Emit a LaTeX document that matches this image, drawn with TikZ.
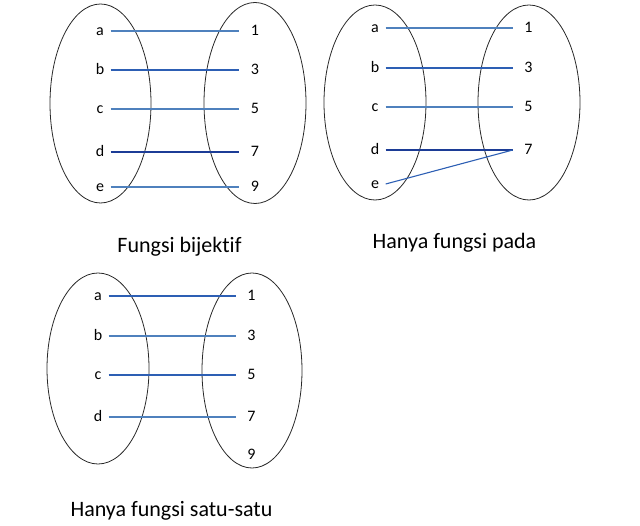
\documentclass[tikz,border=0pt]{standalone}
\usepackage{fontspec}
\setmainfont{Carlito}[Ligatures=NoCommon]
\definecolor{lineLight}{RGB}{79,129,189}
\definecolor{lineMid}{RGB}{45,95,180}
\definecolor{lineDark}{RGB}{28,60,150}
\definecolor{ringGray}{RGB}{40,40,40}
\begin{document}
\begin{tikzpicture}[x=1pt, y=-1pt,
        dom/.style={minimum width=21pt, inner sep=0pt, text height=9pt, text depth=0pt, font=\fontsize{16}{19}\selectfont},
        cod/.style={minimum width=31pt, inner sep=0pt, text height=9pt, text depth=0pt, font=\fontsize{16}{19}\selectfont},
        captext/.style={anchor=base, inner sep=0pt, font=\fontsize{22}{26}\selectfont},
        setring/.style={draw=ringGray, line width=0.8pt},
        mapline/.style={line width=1.1pt}]
        \useasboundingbox (0, 0) rectangle (640, 526);

        % Fungsi bijektif
        \draw[setring] (100.5, 103.5) ellipse [x radius=50.5, y radius=99.5];
        \draw[setring] (255, 103) ellipse [x radius=51, y radius=100.5];
        \node[dom] (pa) at (100, 31) {a};
        \node[dom] (pb) at (100, 70) {b};
        \node[dom] (pc) at (100, 109) {c};
        \node[dom] (pd) at (100, 152) {d};
        \node[dom] (pe) at (100, 187) {e};
        \node[cod] (p1) at (255, 31) {1};
        \node[cod] (p3) at (255, 70) {3};
        \node[cod] (p5) at (255, 109) {5};
        \node[cod] (p7) at (255, 152) {7};
        \node[cod] (p9) at (255, 187) {9};
        \draw[mapline, lineLight] (pa.east) -- (p1.west);
        \draw[mapline, lineMid] (pb.east) -- (p3.west);
        \draw[mapline, lineLight] (pc.east) -- (p5.west);
        \draw[mapline, lineDark] (pd.east) -- (p7.west);
        \draw[mapline, lineLight] (pe.east) -- (p9.west);
        \node[captext] (bij) at (179.5, 253) {Fungsi bijektif};

        % Hanya fungsi pada
        \draw[setring] (375, 102.5) ellipse [x radius=51, y radius=97.5];
        \draw[setring] (529, 102.5) ellipse [x radius=51, y radius=97.5];
        \node[dom] (qa) at (375, 28) {a};
        \node[dom] (qb) at (375, 68) {b};
        \node[dom] (qc) at (375, 107) {c};
        \node[dom] (qd) at (375, 150) {d};
        \node[dom] (qe) at (375, 184) {e};
        \node[cod] (q1) at (528.5, 28) {1};
        \node[cod] (q3) at (528.5, 68) {3};
        \node[cod] (q5) at (528.5, 107) {5};
        \node[cod] (q7) at (528.5, 150) {7};
        \draw[mapline, lineLight] (qa.east) -- (q1.west);
        \draw[mapline, lineMid] (qb.east) -- (q3.west);
        \draw[mapline, lineLight] (qc.east) -- (q5.west);
        \draw[mapline, lineDark] (qd.east) -- (q7.west);
        \draw[mapline, lineMid] (qe.east) -- (q7.west);
        \node[captext] (pada) at (454.5, 249) {Hanya fungsi pada};

        % Hanya fungsi satu-satu
        \draw[setring] (98, 368.5) ellipse [x radius=51, y radius=95.5];
        \draw[setring] (252, 370.5) ellipse [x radius=50, y radius=97.5];
        \node[dom] (ra) at (98, 296) {a};
        \node[dom] (rb) at (98, 336) {b};
        \node[dom] (rc) at (98, 375) {c};
        \node[dom] (rd) at (98, 417) {d};
        \node[cod] (r1) at (251.5, 296) {1};
        \node[cod] (r3) at (251.5, 336) {3};
        \node[cod] (r5) at (251.5, 375) {5};
        \node[cod] (r7) at (251.5, 417) {7};
        \node[cod] (r9) at (251.5, 455) {9};
        \draw[mapline, lineMid] (ra.east) -- (r1.west);
        \draw[mapline, lineLight] (rb.east) -- (r3.west);
        \draw[mapline, lineMid] (rc.east) -- (r5.west);
        \draw[mapline, lineLight] (rd.east) -- (r7.west);
        \node[captext] (satu) at (171.5, 516) {Hanya fungsi satu-satu};
    \end{tikzpicture}
\end{document}
